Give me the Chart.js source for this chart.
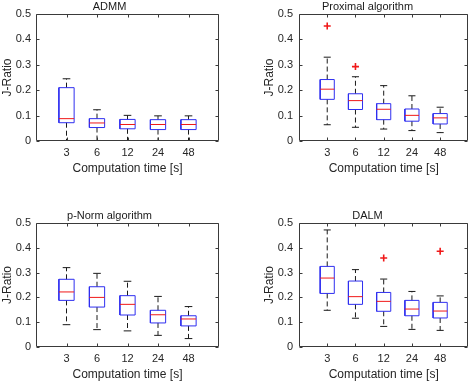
<!DOCTYPE html>
<html><head><meta charset="utf-8">
<script src="https://cdn.jsdelivr.net/npm/chart.js@4"></script>
<style>
html,body{margin:0;padding:0;background:#fff;}
#wrap{position:relative;width:474px;height:382px;overflow:hidden;background:#fff;}
canvas{position:absolute;}
</style></head><body>
<div id="wrap">
<canvas id="c0" width="237" height="191" style="left:0;top:0"></canvas>
<canvas id="c1" width="237" height="191" style="left:237px;top:0"></canvas>
<canvas id="c2" width="237" height="191" style="left:0;top:191px"></canvas>
<canvas id="c3" width="237" height="191" style="left:237px;top:191px"></canvas>
</div>
<script>
// ---- data ----
const categories = ['3', '6', '12', '24', '48'];
const xAxisTitle = 'Computation time [s]';
const yAxisTitle = 'J-Ratio';

const admmUpper  = [0.245, 0.123, 0.101, 0.099, 0.099];
const admmQ3     = [0.210, 0.088, 0.085, 0.084, 0.084];
const admmMedian = [0.088, 0.071, 0.065, 0.065, 0.065];
const admmQ1     = [0.072, 0.053, 0.048, 0.045, 0.045];
const admmLower  = [0.002, 0.002, 0.002, 0.002, 0.002];
const admmOutlierCat = [];
const admmOutlierVal = [];

const proxUpper  = [0.330, 0.253, 0.218, 0.178, 0.133];
const proxQ3     = [0.242, 0.186, 0.147, 0.126, 0.108];
const proxMedian = [0.204, 0.159, 0.125, 0.101, 0.091];
const proxQ1     = [0.164, 0.124, 0.084, 0.078, 0.067];
const proxLower  = [0.064, 0.054, 0.047, 0.041, 0.033];
const proxOutlierCat = ['3', '6'];
const proxOutlierVal = [0.453, 0.293];

const pnormUpper  = [0.320, 0.297, 0.265, 0.204, 0.163];
const pnormQ3     = [0.273, 0.243, 0.207, 0.148, 0.126];
const pnormMedian = [0.222, 0.200, 0.172, 0.130, 0.113];
const pnormQ1     = [0.188, 0.161, 0.129, 0.097, 0.085];
const pnormLower  = [0.090, 0.070, 0.065, 0.047, 0.034];
const pnormOutlierCat = [];
const pnormOutlierVal = [];

const dalmUpper  = [0.472, 0.312, 0.274, 0.224, 0.206];
const dalmQ3     = [0.325, 0.266, 0.220, 0.188, 0.180];
const dalmMedian = [0.278, 0.203, 0.184, 0.153, 0.145];
const dalmQ1     = [0.216, 0.172, 0.144, 0.126, 0.117];
const dalmLower  = [0.148, 0.116, 0.083, 0.071, 0.067];
const dalmOutlierCat = ['12', '48'];
const dalmOutlierVal = [0.359, 0.386];

const yTickMin = 0, yTickMax = 0.5, yTickStep = 0.1;

// ---- styles ----
Chart.defaults.font.family = "'Liberation Sans', Arial, Helvetica, sans-serif";
Chart.defaults.color = '#262626';
const BOX_HALF = 0.25, CAP_HALF = 0.125;
const BLUE = '#2f2ff0', RED = '#f01818', BLACK = '#1a1a1a', AXIS = '#3a3a3a';

function buildDatasets(upper, q3, med, q1, lower, outCat, outVal) {
  const box = [], medL = [], whU = [], whL = [], capU = [], capL = [];
  categories.forEach((c, k) => {
    const i = k + 1;
    const gap = {x: i + 0.5, y: null};
    box.push({x: i - BOX_HALF, y: q1[k]}, {x: i + BOX_HALF, y: q1[k]}, {x: i + BOX_HALF, y: q3[k]},
             {x: i - BOX_HALF, y: q3[k]}, {x: i - BOX_HALF, y: q1[k]}, gap);
    medL.push({x: i - BOX_HALF, y: med[k]}, {x: i + BOX_HALF, y: med[k]}, gap);
    whU.push({x: i, y: q3[k]}, {x: i, y: upper[k]}, gap);
    whL.push({x: i, y: q1[k]}, {x: i, y: lower[k]}, gap);
    capU.push({x: i - CAP_HALF, y: upper[k]}, {x: i + CAP_HALF, y: upper[k]}, gap);
    capL.push({x: i - CAP_HALF, y: lower[k]}, {x: i + CAP_HALF, y: lower[k]}, gap);
  });
  const outs = outCat.map((c, j) => ({x: categories.indexOf(c) + 1, y: outVal[j]}));
  const line = (data, color, dash) => ({data, showLine: true, pointRadius: 0, borderColor: color,
    borderWidth: 1, borderDash: dash || [], spanGaps: false, fill: false});
  return [
    {data: outs, showLine: false, pointStyle: 'cross', pointRadius: 3.5, borderColor: RED, borderWidth: 1.6, backgroundColor: RED},
    line(medL, RED),
    line(box, BLUE),
    line(capU, BLACK),
    line(capL, BLACK),
    line(whU, BLACK, [5, 3]),
    line(whL, BLACK, [5, 3])
  ];
}

const framePlugin = {
  id: 'frame',
  afterDatasetsDraw(chart) {
    const {ctx, chartArea: a, scales: {x, y}} = chart;
    const L = Math.round(a.left) + 0.5, R = Math.round(a.right) - 0.5;
    const T = Math.round(a.top) + 0.5, B = Math.round(a.bottom) - 0.5;
    ctx.save();
    ctx.strokeStyle = AXIS; ctx.lineWidth = 1;
    ctx.beginPath();
    ctx.rect(L, T, R - L, B - T);
    const tl = 3;
    x.ticks.forEach(t => {
      const px = Math.round(x.getPixelForValue(t.value)) + 0.5;
      ctx.moveTo(px, B); ctx.lineTo(px, B - tl);
      ctx.moveTo(px, T); ctx.lineTo(px, T + tl);
    });
    y.ticks.forEach(t => {
      const py = Math.round(y.getPixelForValue(t.value)) + 0.5;
      ctx.moveTo(L, py); ctx.lineTo(L + tl, py);
      ctx.moveTo(R, py); ctx.lineTo(R - tl, py);
    });
    ctx.stroke();
    ctx.restore();
  }
};

function makeChart(id, title, ds, pad, yWidth, yPad) {
  new Chart(document.getElementById(id), {
    type: 'scatter',
    data: {datasets: ds},
    plugins: [framePlugin],
    options: {
      responsive: false, animation: false, events: [],
      layout: {padding: pad},
      plugins: {
        legend: {display: false}, tooltip: {enabled: false},
        title: {display: true, text: title, font: {size: 11, weight: 'normal'}, padding: {top: 0, bottom: 0.8}, color: '#1a1a1a'}
      },
      scales: {
        x: {
          type: 'linear', min: 0, max: categories.length + 1,
          grid: {display: false, drawTicks: false, tickLength: 0}, border: {display: false},
          afterBuildTicks: s => { s.ticks = categories.map((c, k) => ({value: k + 1})); },
          ticks: {autoSkip: false, maxRotation: 0, padding: 5.5, font: {size: 11},
                  callback: v => categories[Math.round(v) - 1] ?? ''},
          title: {display: true, text: xAxisTitle, font: {size: 12}, padding: {top: 0, bottom: 0}},
          afterFit: s => { s.height = 35; }
        },
        y: {
          type: 'linear', min: yTickMin, max: yTickMax,
          grid: {display: false, drawTicks: false, tickLength: 0}, border: {display: false},
          ticks: {stepSize: yTickStep, padding: yPad, font: {size: 11}},
          title: {display: true, text: yAxisTitle, font: {size: 12}, padding: {top: 0, bottom: 0}},
          afterFit: s => { s.width = yWidth; }
        }
      }
    }
  });
}

makeChart('c0', 'ADMM',
  buildDatasets(admmUpper, admmQ3, admmMedian, admmQ1, admmLower, admmOutlierCat, admmOutlierVal),
  {left: 0, right: 18, top: 0, bottom: 15}, 36, 5);
makeChart('c1', 'Proximal algorithm',
  buildDatasets(proxUpper, proxQ3, proxMedian, proxQ1, proxLower, proxOutlierCat, proxOutlierVal),
  {left: 25, right: 1, top: 0, bottom: 15}, 37, 6);
makeChart('c2', 'p-Norm algorithm',
  buildDatasets(pnormUpper, pnormQ3, pnormMedian, pnormQ1, pnormLower, pnormOutlierCat, pnormOutlierVal),
  {left: 0, right: 18, top: 18, bottom: 0}, 36, 5);
makeChart('c3', 'DALM',
  buildDatasets(dalmUpper, dalmQ3, dalmMedian, dalmQ1, dalmLower, dalmOutlierCat, dalmOutlierVal),
  {left: 25, right: 1, top: 18, bottom: 0}, 37, 6);
</script>
</body></html>
